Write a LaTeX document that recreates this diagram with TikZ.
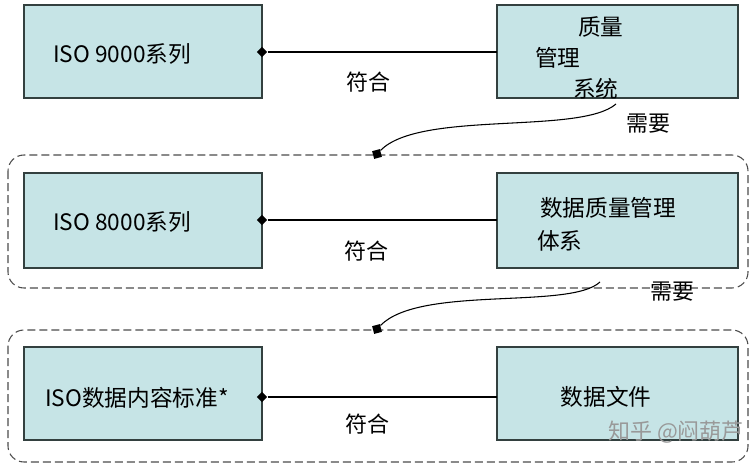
\documentclass[tikz,border=0pt]{standalone}
\usepackage{fontspec}
\setmainfont{Noto Sans CJK SC}
\usetikzlibrary{shapes.geometric}
\definecolor{boxfill}{HTML}{C6E4E6}
\definecolor{boxline}{HTML}{33403F}
\begin{document}
\begin{tikzpicture}[x=0.75pt,y=-0.75pt,
  box/.style={draw=boxline,line width=1.2pt,fill=boxfill},
  grp/.style={draw=black!70,dashed,dash pattern=on 6pt off 3pt,line width=0.8pt,rounded corners=12pt},
  txt/.style={font=\fontsize{17}{20}\selectfont,inner sep=0pt,anchor=west},
  lbl/.style={font=\fontsize{16.5}{19}\selectfont,inner sep=0pt},
  dia/.style={diamond,fill=black,inner sep=0pt,minimum size=8pt},
  sq/.style={fill=black,inner sep=0pt,minimum size=6pt,rotate=15}]
\useasboundingbox (0,0) rectangle (752,465);
\draw[grp] (8,155) rectangle (748,288);
\draw[grp] (8,330) rectangle (748,462);
% row 1
\draw[box] (24,5) rectangle (262,98);
\draw[box] (497,5) rectangle (738,98);
\node[txt] (t1) at (53,54) {ISO 9000系列};
\node[txt] (t2a) at (578,27) {质量};
\node[txt] (t2b) at (535,58) {管理};
\node[txt] (t2c) at (573,89) {系统};
\node[dia] (d1) at (262,52) {};
\coordinate (e1) at (497,52);
\draw[line width=0.8pt] (d1) -- (e1);
\node[lbl] (f1) at (368,82) {符合};
% row 2
\draw[box] (24,173) rectangle (262,268);
\draw[box] (497,173) rectangle (738,268);
\node[txt] (t3) at (53,222) {ISO 8000系列};
\node[txt] (t4a) at (540,208) {数据质量管理};
\node[txt] (t4b) at (537,241) {体系};
\node[dia] (d2) at (262,220) {};
\coordinate (e2) at (497,220);
\draw[line width=0.8pt] (d2) -- (e2);
\node[lbl] (f2) at (366,251) {符合};
% row 3
\draw[box] (24,347) rectangle (262,440);
\draw[box] (497,347) rectangle (738,440);
\node[txt] (t5) at (45,398) {ISO数据内容标准*};
\node[txt,anchor=center] (t6) at (606,397) {数据文件};
\node[dia] (d3) at (262,397) {};
\coordinate (e3) at (497,397);
\draw[line width=0.8pt] (d3) -- (e3);
\node[lbl] (f3) at (367,424) {符合};
% need links
\node[sq] (s1) at (377,154) {};
\coordinate (c1) at (616,104);
\draw[line width=0.8pt] (c1) .. controls (580,135) and (420,110) .. (s1);
\node[lbl] (n1) at (648,124) {需要};
\node[sq] (s2) at (377,329) {};
\coordinate (c2) at (600,282);
\draw[line width=0.8pt] (c2) .. controls (570,310) and (420,285) .. (s2);
\node[lbl] (n2) at (672,292) {需要};
\node[lbl,text=black!40] (wm) at (676,432) {知乎 @闷葫芦};
\end{tikzpicture}
\end{document}
